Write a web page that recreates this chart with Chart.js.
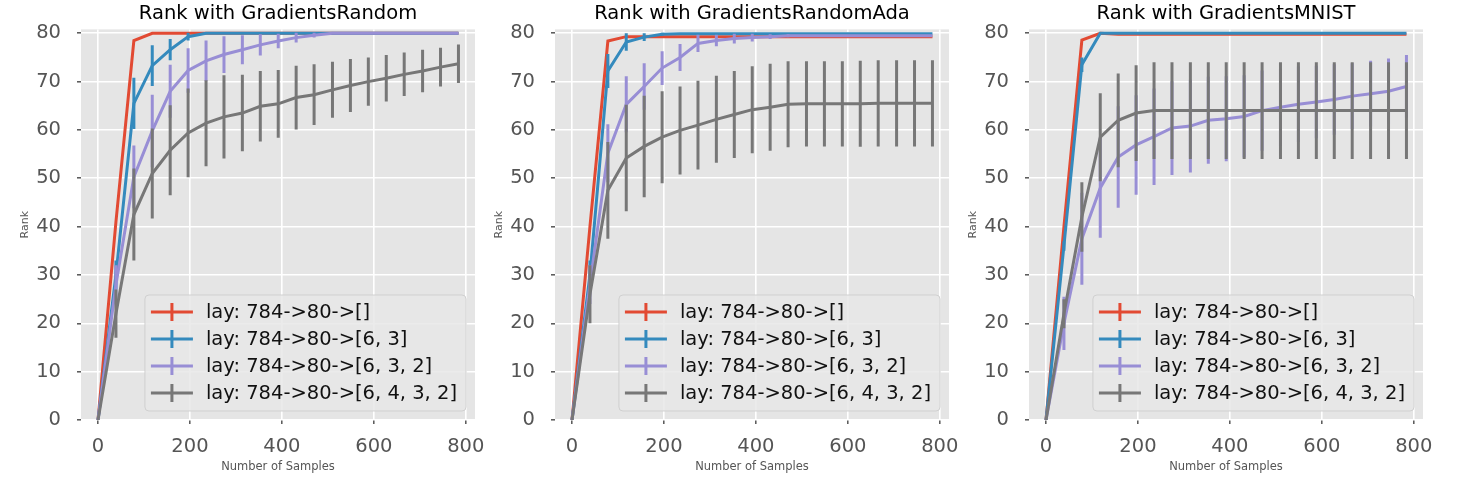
<!DOCTYPE html>
<html>
<head>
<meta charset="utf-8">
<title>Rank vs Number of Samples</title>
<script src="https://cdn.jsdelivr.net/npm/chart.js@4"></script>
<style>
    body {
        margin: 0;
        background: #ffffff;
        width: 1468px;
        height: 484px;
        overflow: hidden;
        position: relative;
    }
    .panel {
        position: absolute;
        top: 0;
        width: 492px;
        height: 484px;
    }
</style>
</head>
<body>
<div class="panel" style="left:0px"><canvas id="chartRandom"></canvas></div>
<div class="panel" style="left:474px"><canvas id="chartRandomAda"></canvas></div>
<div class="panel" style="left:948px"><canvas id="chartMnist"></canvas></div>
<script>
// x positions of the samples (shared by every series)
const samples = [0, 39, 78, 118, 157, 196, 235, 274, 314, 353, 392, 431, 470, 510, 549, 588, 627, 666, 706, 745, 784];
const xTicks = [0, 200, 400, 600, 800];
const yTicks = [0, 10, 20, 30, 40, 50, 60, 70, 80];
const seriesLabels = ['lay: 784->80->[]', 'lay: 784->80->[6, 3]', 'lay: 784->80->[6, 3, 2]', 'lay: 784->80->[6, 4, 3, 2]'];
const panelTitles = ['Rank with GradientsRandom', 'Rank with GradientsRandomAda', 'Rank with GradientsMNIST'];

// GradientsRandom
const rndEmpty = [0, 41, 78.5, 80, 80, 80, 80, 80, 80, 80, 80, 80, 80, 80, 80, 80, 80, 80, 80, 80, 80];
const rndEmptyErr = [0, 0, 0, 0, 0, 0, 0, 0, 0, 0, 0, 0, 0, 0, 0, 0, 0, 0, 0, 0, 0];
const rnd63 = [0, 30, 65.5, 73.3, 76.6, 79.3, 80, 80, 80, 80, 80, 80, 80, 80, 80, 80, 80, 80, 80, 80, 80];
const rnd63Err = [0, 3, 5.3, 4.2, 2.2, 0.8, 0, 0, 0, 0, 0, 0, 0, 0, 0, 0, 0, 0, 0, 0, 0];
const rnd632 = [0, 28, 50.3, 59.8, 68, 72.3, 74.3, 75.6, 76.6, 77.6, 78.4, 79.1, 79.6, 80, 80, 80, 80, 80, 80, 80, 80];
const rnd632Err = [0, 4, 6.5, 7.5, 5.5, 4.6, 4.2, 3.8, 3, 2.2, 1.5, 1, 0.5, 0, 0, 0, 0, 0, 0, 0, 0];
const rnd6432 = [0, 22, 42.5, 51, 55.8, 59.4, 61.4, 62.7, 63.5, 64.9, 65.4, 66.7, 67.3, 68.3, 69.2, 70, 70.7, 71.5, 72.2, 73, 73.7];
const rnd6432Err = [0, 5, 9.5, 9.3, 9.3, 9.2, 8.9, 8.6, 7.9, 7.3, 7, 6.6, 6.3, 5.8, 5.5, 5, 4.8, 4.5, 4.4, 4, 4];

// GradientsRandomAda
const adaEmpty = [0, 40, 78.4, 79.3, 79.3, 79.3, 79.3, 79.3, 79.3, 79.3, 79.3, 79.3, 79.3, 79.3, 79.3, 79.3, 79.3, 79.3, 79.3, 79.3, 79.3];
const adaEmptyErr = [0, 0, 0, 0, 0, 0, 0, 0, 0, 0, 0, 0, 0, 0, 0, 0, 0, 0, 0, 0, 0];
const ada63 = [0, 30, 72.2, 78.2, 79.2, 79.8, 79.9, 79.9, 79.9, 79.9, 79.9, 79.9, 79.9, 79.9, 79.9, 79.9, 79.9, 79.9, 79.9, 79.9, 79.9];
const ada63Err = [0, 3, 3.5, 1.8, 0.8, 0.3, 0, 0, 0, 0, 0, 0, 0, 0, 0, 0, 0, 0, 0, 0, 0];
const ada632 = [0, 28, 55.2, 65.3, 69, 72.8, 75, 77.9, 78.5, 78.9, 79.1, 79.3, 79.5, 79.5, 79.5, 79.5, 79.5, 79.5, 79.5, 79.5, 79.5];
const ada632Err = [0, 4, 6, 5.8, 4.8, 3.5, 2.8, 1.8, 1.2, 1, 0.8, 0.5, 0.3, 0, 0, 0, 0, 0, 0, 0, 0];
const ada6432 = [0, 26, 47.5, 54.2, 56.6, 58.5, 59.9, 61, 62.2, 63.2, 64.2, 64.7, 65.3, 65.4, 65.4, 65.4, 65.4, 65.5, 65.5, 65.5, 65.5];
const ada6432Err = [0, 6, 10, 11, 10.5, 9.5, 9.1, 9.2, 9, 9, 9, 9, 8.9, 8.8, 8.8, 8.8, 8.9, 8.9, 8.9, 8.9, 8.9];

// GradientsMNIST
const mnEmpty = [0, 40, 78.6, 80, 79.8, 79.8, 79.8, 79.8, 79.8, 79.8, 79.8, 79.8, 79.8, 79.8, 79.8, 79.8, 79.8, 79.8, 79.8, 79.8, 79.8];
const mnEmptyErr = [0, 0, 0, 0, 0, 0, 0, 0, 0, 0, 0, 0, 0, 0, 0, 0, 0, 0, 0, 0, 0];
const mn63 = [0, 36, 73.5, 80, 80, 80, 80, 80, 80, 80, 80, 80, 80, 80, 80, 80, 80, 80, 80, 80, 80];
const mn63Err = [0, 1, 1.5, 0, 0, 0, 0, 0, 0, 0, 0, 0, 0, 0, 0, 0, 0, 0, 0, 0, 0];
const mn632 = [0, 20, 37.5, 48, 54.4, 56.9, 58.6, 60.4, 60.8, 62, 62.3, 62.8, 64, 64.7, 65.3, 65.8, 66.3, 67, 67.5, 68, 69];
const mn632Err = [0, 5.5, 9.5, 10.3, 10.5, 10.3, 10, 9.7, 9.6, 9, 8.8, 8.5, 8.3, 8, 7.8, 7.5, 7.3, 6.8, 6.8, 6.8, 6.5];
const mn6432 = [0, 22, 42, 58.5, 62, 63.5, 64, 64, 64, 64, 64, 64, 64, 64, 64, 64, 64, 64, 64, 64, 64];
const mn6432Err = [0, 3, 7.2, 9.1, 9.7, 9.9, 10, 10, 10, 10, 10, 10, 10, 10, 10, 10, 10, 10, 10, 10, 10];

const colors = ['#E24A33', '#348ABD', '#988ED5', '#777777'];
const FONT = "'DejaVu Sans', 'Liberation Sans', sans-serif";
const BIG = 19.5;

// gray plot background
const plotBackground = {
    id: 'plotBackground',
    beforeDraw(chart) {
        const {ctx, chartArea: a} = chart;
        ctx.save();
        ctx.fillStyle = '#E5E5E5';
        ctx.fillRect(a.left, a.top, a.right - a.left, a.bottom - a.top);
        ctx.restore();
    }
};

// vertical error bars, drawn right after their own line
const errorBars = {
    id: 'errorBars',
    afterDatasetDraw(chart, args) {
        const ds = chart.data.datasets[args.index];
        if (!ds.errors) return;
        const {ctx, chartArea: a} = chart;
        const xs = chart.scales.x, ys = chart.scales.y;
        ctx.save();
        ctx.beginPath();
        ctx.rect(a.left, a.top, a.right - a.left, a.bottom - a.top);
        ctx.clip();
        ctx.strokeStyle = ds.borderColor;
        ctx.lineWidth = 3;
        ds.data.forEach((p, i) => {
            const e = ds.errors[i];
            if (!e) return;
            const x = xs.getPixelForValue(p.x);
            ctx.beginPath();
            ctx.moveTo(x, ys.getPixelForValue(p.y - e));
            ctx.lineTo(x, ys.getPixelForValue(p.y + e));
            ctx.stroke();
        });
        ctx.restore();
    }
};

// matplotlib-like legend box in the lower right corner
const boxLegend = {
    id: 'boxLegend',
    afterDraw(chart) {
        const {ctx, chartArea: a} = chart;
        const sets = chart.data.datasets;
        ctx.save();
        ctx.font = BIG + 'px ' + FONT;
        let textW = 0;
        sets.forEach(ds => { textW = Math.max(textW, ctx.measureText(ds.label).width); });
        const w = 61 + textW + 9;
        const h = 116;
        const bx = a.right - 9 - w;
        const by = a.bottom - 9 - h;
        ctx.beginPath();
        ctx.roundRect(bx, by, w, h, 4);
        ctx.fillStyle = 'rgba(232, 232, 232, 0.85)';
        ctx.fill();
        ctx.strokeStyle = 'rgba(205, 205, 205, 0.9)';
        ctx.lineWidth = 1;
        ctx.stroke();
        // legend rows follow drawing order of the series
        sets.forEach((ds, i) => {
            const y = by + 17 + i * 27;
            ctx.strokeStyle = ds.borderColor;
            ctx.lineWidth = 3;
            ctx.beginPath();
            ctx.moveTo(bx + 6, y);
            ctx.lineTo(bx + 48, y);
            ctx.moveTo(bx + 27, y - 9);
            ctx.lineTo(bx + 27, y + 9);
            ctx.stroke();
            ctx.fillStyle = '#111';
            ctx.textBaseline = 'middle';
            ctx.textAlign = 'left';
            ctx.fillText(ds.label, bx + 61, y + 1);
        });
        ctx.restore();
    }
};

function toPoints(values) {
    return samples.map((x, i) => ({x: x, y: values[i]}));
}

function makePanel(canvasId, title, means, errors) {
    const ctx = document.getElementById(canvasId);
    return new Chart(ctx, {
        type: 'line',
        data: {
            datasets: means.map((m, i) => ({
                label: seriesLabels[i],
                data: toPoints(m),
                errors: errors[i],
                borderColor: colors[i],
                backgroundColor: colors[i],
                borderWidth: 3,
                pointRadius: 0,
                tension: 0,
                fill: false,
                // later series drawn on top, like matplotlib
                order: means.length - i
            }))
        },
        options: {
            responsive: true,
            maintainAspectRatio: false,
            animation: false,
            layout: {
                padding: {left: 0, right: 17, top: 0, bottom: 0}
            },
            plugins: {
                legend: {display: false},
                tooltip: {enabled: false},
                title: {
                    display: true,
                    text: title,
                    fullSize: false,
                    color: '#000',
                    font: {family: FONT, size: BIG, weight: 'normal'},
                    padding: {top: 2, bottom: 4}
                }
            },
            scales: {
                x: {
                    type: 'linear',
                    min: -37,
                    max: 820,
                    afterBuildTicks: scale => { scale.ticks = xTicks.map(v => ({value: v})); },
                    afterFit: scale => {
                        scale.height = 64;
                        // keep the plot width fixed, labels may overhang
                        scale.paddingLeft = 0;
                        scale.paddingRight = 0;
                    },
                    border: {display: false},
                    grid: {
                        color: '#ffffff',
                        lineWidth: 1.6,
                        drawTicks: true,
                        tickLength: 4,
                        tickWidth: 1.5,
                        tickColor: '#555555'
                    },
                    ticks: {
                        color: '#555555',
                        padding: 11,
                        maxRotation: 0,
                        font: {family: FONT, size: BIG}
                    },
                    title: {
                        display: true,
                        text: 'Number of Samples',
                        color: '#555555',
                        font: {family: FONT, size: 11.5},
                        padding: {top: 0, bottom: 10}
                    }
                },
                y: {
                    min: 0,
                    max: 80.8,
                    afterBuildTicks: scale => { scale.ticks = yTicks.map(v => ({value: v})); },
                    afterFit: scale => {
                        scale.width = 81;
                        scale.paddingTop = 0;
                        scale.paddingBottom = 0;
                    },
                    border: {display: false},
                    grid: {
                        color: '#ffffff',
                        lineWidth: 1.6,
                        drawTicks: true,
                        tickLength: 4,
                        tickWidth: 1.5,
                        tickColor: '#555555'
                    },
                    ticks: {
                        color: '#555555',
                        padding: 16,
                        font: {family: FONT, size: BIG}
                    },
                    title: {
                        display: true,
                        text: 'Rank',
                        color: '#555555',
                        font: {family: FONT, size: 11},
                        padding: {top: 19, bottom: 0}
                    }
                }
            }
        },
        plugins: [plotBackground, errorBars, boxLegend]
    });
}

makePanel('chartRandom', panelTitles[0],
    [rndEmpty, rnd63, rnd632, rnd6432],
    [rndEmptyErr, rnd63Err, rnd632Err, rnd6432Err]);
makePanel('chartRandomAda', panelTitles[1],
    [adaEmpty, ada63, ada632, ada6432],
    [adaEmptyErr, ada63Err, ada632Err, ada6432Err]);
makePanel('chartMnist', panelTitles[2],
    [mnEmpty, mn63, mn632, mn6432],
    [mnEmptyErr, mn63Err, mn632Err, mn6432Err]);
</script>
</body>
</html>
